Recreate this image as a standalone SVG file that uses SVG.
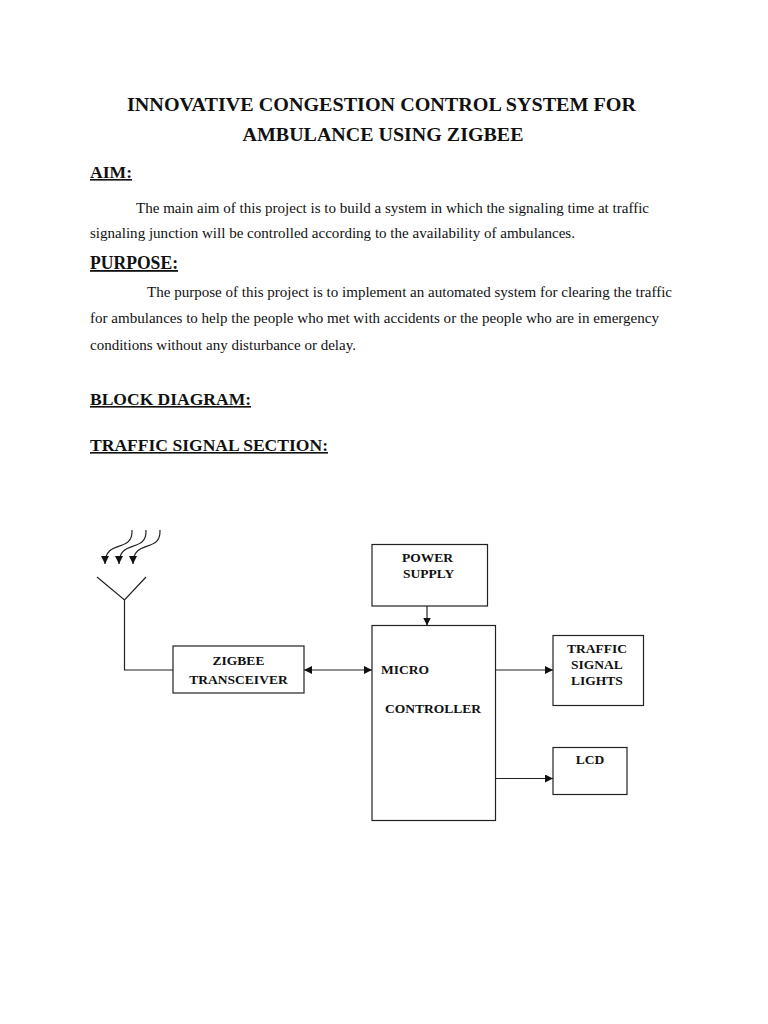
<svg xmlns="http://www.w3.org/2000/svg" width="768" height="1024" viewBox="0 0 768 1024">
<style>
.t{font-family:"Liberation Serif","Times New Roman",serif;fill:#111}
.title{font-size:18.5px;font-weight:bold}
.h{font-size:16px;font-weight:bold;text-decoration:underline}
.b{font-size:14px}
.n{font-size:13.5px;font-weight:bold}
.box{fill:#fff;stroke:#222;stroke-width:1.2}
.ln{fill:none;stroke:#222;stroke-width:1.2}
</style>
<defs>
<marker id="ah" viewBox="0 0 10 10" refX="10" refY="5" markerWidth="8" markerHeight="8" markerUnits="userSpaceOnUse" orient="auto-start-reverse">
<path d="M0,0 L10,5 L0,10 z" fill="#111"/>
</marker>
</defs>
<rect width="768" height="1024" fill="#fff"/>
<g id="text">
<text class="t title" x="381.5" y="111" text-anchor="middle" textLength="509" lengthAdjust="spacingAndGlyphs">INNOVATIVE CONGESTION CONTROL SYSTEM FOR</text>
<text class="t title" x="383" y="141" text-anchor="middle" textLength="281" lengthAdjust="spacingAndGlyphs">AMBULANCE USING ZIGBEE</text>
<text class="t h" x="90" y="178" textLength="42" lengthAdjust="spacingAndGlyphs">AIM:</text>
<text class="t b" x="136" y="213" textLength="513" lengthAdjust="spacingAndGlyphs">The main aim of this project is to build a system in which the signaling time at traffic</text>
<text class="t b" x="90" y="238" textLength="485" lengthAdjust="spacingAndGlyphs">signaling junction will be controlled according to the availability of ambulances.</text>
<text class="t h" x="90" y="269" style="font-size:18px" textLength="88" lengthAdjust="spacingAndGlyphs">PURPOSE:</text>
<text class="t b" x="147" y="297" textLength="525" lengthAdjust="spacingAndGlyphs">The purpose of this project is to implement an automated system for clearing the traffic</text>
<text class="t b" x="90" y="323" textLength="569" lengthAdjust="spacingAndGlyphs">for ambulances to help the people who met with accidents or the people who are in emergency</text>
<text class="t b" x="90" y="350" textLength="266" lengthAdjust="spacingAndGlyphs">conditions without any disturbance or delay.</text>
<text class="t h" x="90" y="405" textLength="161" lengthAdjust="spacingAndGlyphs">BLOCK DIAGRAM:</text>
<text class="t h" x="90" y="451" textLength="238" lengthAdjust="spacingAndGlyphs">TRAFFIC SIGNAL SECTION:</text>
</g>
<g id="antenna">
<path class="ln" d="M97,577 L124.5,600 L146,577 M124.5,600 L124.5,670 L173,670"/>
<path class="ln" d="M132,530 C133,554 105,538 105,564" marker-end="url(#ah)"/>
<path class="ln" d="M146,530 C147,554 119,538 119,564" marker-end="url(#ah)"/>
<path class="ln" d="M160,530 C161,554 133,538 133,564" marker-end="url(#ah)"/>
</g>
<g id="zigbee">
<rect class="box" x="173" y="646" width="131" height="47"/>
<text class="t n" x="238.5" y="665" text-anchor="middle">ZIGBEE</text>
<text class="t n" x="238.5" y="684" text-anchor="middle">TRANSCEIVER</text>
</g>
<g id="power">
<rect class="box" x="372" y="544.5" width="115.5" height="61.5"/>
<text class="t n" x="402" y="561.5">POWER</text>
<text class="t n" x="403" y="577.5">SUPPLY</text>
</g>
<g id="micro">
<rect class="box" x="372" y="625.5" width="123.5" height="195"/>
<text class="t n" x="381" y="674">MICRO</text>
<text class="t n" x="385" y="712.5">CONTROLLER</text>
</g>
<g id="traffic">
<rect class="box" x="553" y="635.5" width="90.5" height="70"/>
<text class="t n" x="597" y="652.5" text-anchor="middle">TRAFFIC</text>
<text class="t n" x="597" y="668.5" text-anchor="middle">SIGNAL</text>
<text class="t n" x="597" y="685" text-anchor="middle">LIGHTS</text>
</g>
<g id="lcd">
<rect class="box" x="553" y="747.5" width="74" height="47"/>
<text class="t n" x="590" y="763.5" text-anchor="middle">LCD</text>
</g>
<g id="connectors">
<path class="ln" d="M304,670 L372,670" marker-start="url(#ah)" marker-end="url(#ah)"/>
<path class="ln" d="M427,606 L427,625.5" marker-end="url(#ah)"/>
<path class="ln" d="M495.5,670 L553,670" marker-end="url(#ah)"/>
<path class="ln" d="M495.5,778.5 L553,778.5" marker-end="url(#ah)"/>
</g>
</svg>
